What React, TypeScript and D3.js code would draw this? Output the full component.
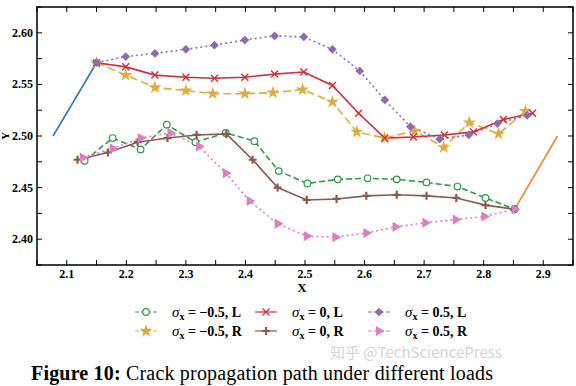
import React from 'react';
import * as d3 from 'd3';

// leading segments (initial crack)
const blueX = [2.077, 2.15];
const blueY = [2.5, 2.571];
const orangeX = [2.852, 2.924];
const orangeY = [2.429, 2.5];

const greenX = [2.13, 2.177, 2.224, 2.268, 2.316, 2.367, 2.415, 2.456, 2.504, 2.555, 2.605, 2.654, 2.704, 2.756, 2.803, 2.852];
const greenY = [2.476, 2.498, 2.487, 2.511, 2.494, 2.503, 2.495, 2.466, 2.454, 2.458, 2.459, 2.458, 2.455, 2.451, 2.44, 2.429];

const yellowX = [2.15, 2.199, 2.248, 2.3, 2.345, 2.399, 2.446, 2.496, 2.546, 2.587, 2.634, 2.684, 2.733, 2.776, 2.825, 2.87];
const yellowY = [2.571, 2.559, 2.547, 2.544, 2.541, 2.541, 2.542, 2.545, 2.533, 2.504, 2.498, 2.505, 2.489, 2.513, 2.502, 2.524];

const redX = [2.15, 2.199, 2.248, 2.3, 2.348, 2.399, 2.449, 2.498, 2.546, 2.59, 2.634, 2.682, 2.734, 2.783, 2.833, 2.882];
const redY = [2.571, 2.567, 2.559, 2.557, 2.556, 2.557, 2.56, 2.562, 2.549, 2.522, 2.498, 2.499, 2.501, 2.504, 2.516, 2.522];

const brownX = [2.118, 2.169, 2.219, 2.269, 2.318, 2.368, 2.412, 2.454, 2.503, 2.553, 2.603, 2.654, 2.704, 2.754, 2.803, 2.852];
const brownY = [2.477, 2.484, 2.494, 2.498, 2.501, 2.502, 2.477, 2.45, 2.438, 2.439, 2.442, 2.443, 2.442, 2.44, 2.433, 2.429];

const purpleX = [2.15, 2.199, 2.248, 2.3, 2.348, 2.399, 2.449, 2.498, 2.546, 2.592, 2.634, 2.677, 2.726, 2.775, 2.823, 2.873];
const purpleY = [2.571, 2.577, 2.58, 2.584, 2.588, 2.593, 2.597, 2.596, 2.584, 2.563, 2.535, 2.509, 2.497, 2.501, 2.512, 2.52];

const pinkX = [2.127, 2.177, 2.224, 2.274, 2.322, 2.367, 2.407, 2.454, 2.503, 2.551, 2.603, 2.652, 2.702, 2.753, 2.801, 2.852];
const pinkY = [2.479, 2.488, 2.498, 2.503, 2.49, 2.464, 2.437, 2.415, 2.403, 2.402, 2.406, 2.412, 2.416, 2.419, 2.422, 2.429];

const xTickLabels = ['2.1', '2.2', '2.3', '2.4', '2.5', '2.6', '2.7', '2.8', '2.9'];
const yTickLabels = ['2.40', '2.45', '2.50', '2.55', '2.60'];

type Marker = 'circle' | 'star' | 'x' | 'plus' | 'diamond' | 'triangle';

interface Series {
  xs: number[];
  ys: number[];
  color: string;
  dash: string;
  marker: Marker;
  val: string;
  side: string;
}

const series: Series[] = [
  { xs: greenX, ys: greenY, color: '#2f9a4c', dash: '6 3', marker: 'circle', val: '\u22120.5', side: 'L' },
  { xs: yellowX, ys: yellowY, color: '#e0ad3a', dash: '8 4', marker: 'star', val: '\u22120.5', side: 'R' },
  { xs: redX, ys: redY, color: '#cf2f3b', dash: '', marker: 'x', val: '0', side: 'L' },
  { xs: brownX, ys: brownY, color: '#8a5a4e', dash: '', marker: 'plus', val: '0', side: 'R' },
  { xs: purpleX, ys: purpleY, color: '#8c6bb1', dash: '2 3', marker: 'diamond', val: '0.5', side: 'L' },
  { xs: pinkX, ys: pinkY, color: '#e07cc0', dash: '2 3', marker: 'triangle', val: '0.5', side: 'R' },
];

const SERIF = 'Liberation Serif';

const drawMarker = (m: Marker, cx: number, cy: number, color: string, key: string | number) => {
  if (m === 'circle') {
    return <circle key={key} cx={cx} cy={cy} r={3.3} fill="#fff" stroke={color} strokeWidth={1.2} />;
  }
  if (m === 'x') {
    const s = 3.5;
    return (
      <path key={key} d={`M${cx - s},${cy - s}L${cx + s},${cy + s}M${cx - s},${cy + s}L${cx + s},${cy - s}`}
        stroke={color} strokeWidth={1.4} fill="none" />
    );
  }
  if (m === 'plus') {
    const s = 4;
    return (
      <path key={key} d={`M${cx - s},${cy}L${cx + s},${cy}M${cx},${cy - s}L${cx},${cy + s}`}
        stroke={color} strokeWidth={2.2} fill="none" />
    );
  }
  if (m === 'star') {
    const p = d3.symbol().type(d3.symbolStar).size(55)() || '';
    return <path key={key} d={p} transform={`translate(${cx},${cy})`} fill={color} />;
  }
  if (m === 'diamond') {
    const p = d3.symbol().type(d3.symbolSquare).size(38)() || '';
    return <path key={key} d={p} transform={`translate(${cx},${cy}) rotate(45)`} fill={color} />;
  }
  const p = d3.symbol().type(d3.symbolTriangle).size(45)() || '';
  return <path key={key} d={p} transform={`translate(${cx},${cy}) rotate(90)`} fill={color} />;
};

export default function App() {
  const width = 576;
  const height = 386;
  const plot = { left: 37, right: 573, top: 7, bottom: 265 };

  const x = d3.scaleLinear().domain([2.05, 2.95]).range([plot.left, plot.right]);
  const y = d3.scaleLinear().domain([2.375, 2.625]).range([plot.bottom, plot.top]);

  const line = d3.line<[number, number]>()
    .x(d => x(d[0]))
    .y(d => y(d[1]));

  const pts = (xs: number[], ys: number[]) => xs.map((v, i) => [v, ys[i]] as [number, number]);

  const xTicks = d3.range(2.05, 2.951, 0.05);
  const yTicks = d3.range(2.375, 2.626, 0.025);
  const tl = 5;

  const legendCols = [135, 255, 368];
  const legendRows = [312, 331];

  return (
    <svg width={width} height={height} style={{ position: 'absolute', left: 0, top: 0, background: '#fff' }}>
      <rect x={0} y={0} width={width} height={height} fill="#fff" />

      {/* ticks */}
      {xTicks.map((t, i) => (
        <g key={`xt${i}`}>
          <line x1={x(t)} x2={x(t)} y1={plot.bottom} y2={plot.bottom - tl} stroke="#000" strokeWidth={1} />
          <line x1={x(t)} x2={x(t)} y1={plot.top} y2={plot.top + tl} stroke="#000" strokeWidth={1} />
        </g>
      ))}
      {yTicks.map((t, i) => (
        <g key={`yt${i}`}>
          <line x1={plot.left} x2={plot.left + tl} y1={y(t)} y2={y(t)} stroke="#000" strokeWidth={1} />
          <line x1={plot.right} x2={plot.right - tl} y1={y(t)} y2={y(t)} stroke="#000" strokeWidth={1} />
        </g>
      ))}
      {xTickLabels.map(l => (
        <text key={l} x={x(+l)} y={plot.bottom + 13} textAnchor="middle" fontFamily={SERIF} fontSize={12} fontWeight="bold">{l}</text>
      ))}
      {yTickLabels.map(l => (
        <text key={l} x={plot.left - 4} y={y(+l) + 4} textAnchor="end" fontFamily={SERIF} fontSize={12} fontWeight="bold">{l}</text>
      ))}

      <text x={302} y={292} textAnchor="middle" fontFamily={SERIF} fontSize={13} fontWeight="bold">X</text>
      <text transform={`translate(9,${y(2.5)}) rotate(-90)`} textAnchor="middle" fontFamily={SERIF} fontSize={11} fontWeight="bold">Y</text>

      {/* initial crack segments */}
      <path d={line(pts(blueX, blueY)) || ''} fill="none" stroke="#2f78b0" strokeWidth={1.6} />
      <path d={line(pts(orangeX, orangeY)) || ''} fill="none" stroke="#ef8a2f" strokeWidth={1.6} />

      {series.map((s, i) => (
        <path key={`l${i}`} d={line(pts(s.xs, s.ys)) || ''} fill="none" stroke={s.color}
          strokeWidth={1.6} strokeDasharray={s.dash || undefined} />
      ))}
      {series.map((s, i) => (
        <g key={`m${i}`}>
          {s.xs.map((v, j) => drawMarker(s.marker, x(v), y(s.ys[j]), s.color, j))}
        </g>
      ))}

      <rect x={plot.left} y={plot.top} width={plot.right - plot.left} height={plot.bottom - plot.top}
        fill="none" stroke="#000" strokeWidth={1.5} />

      {/* legend */}
      {series.map((s, i) => {
        const col = Math.floor(i / 2);
        const row = i % 2;
        const lx = legendCols[col];
        const ly = legendRows[row];
        return (
          <g key={`lg${i}`}>
            <line x1={lx} x2={lx + 22} y1={ly} y2={ly} stroke={s.color} strokeWidth={1.2}
              strokeDasharray={s.dash ? '4 2' : undefined} />
            {drawMarker(s.marker, lx + 11, ly, s.color, 'mk')}
            <text x={lx + 37} y={ly + 5} fontFamily={SERIF} fontSize={14} fontWeight="bold">
              <tspan fontStyle="italic" fontWeight="normal" fontSize={15}>{'\u03c3'}</tspan>
              <tspan fontSize={10} dy={3}>x</tspan>
              <tspan dy={-3}>{` = ${s.val}, ${s.side}`}</tspan>
            </text>
          </g>
        );
      })}

      {/* watermark */}
      <text x={330} y={358} fontSize={15} fill="#d4d4d4" fontFamily="Noto Sans CJK SC">
        知乎 @TechSciencePress
      </text>

      {/* caption */}
      <text x={31} y={380} fontFamily={SERIF} fontSize={20} textLength={462} lengthAdjust="spacing">
        <tspan fontWeight="bold">Figure 10:</tspan>
        <tspan> Crack propagation path under different loads</tspan>
      </text>
    </svg>
  );
}
